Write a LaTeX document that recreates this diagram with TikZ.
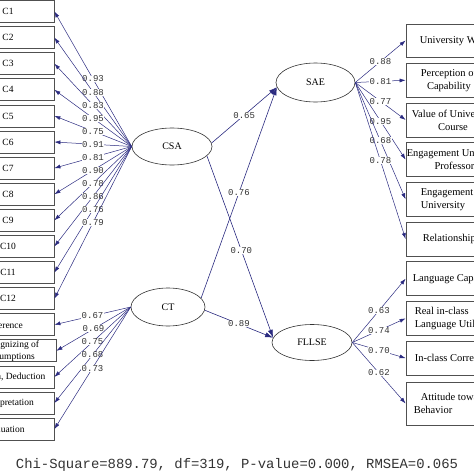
\documentclass[tikz,border=0pt]{standalone}
\usepackage{fontspec}
\setmainfont{Liberation Serif}
\setmonofont{Liberation Mono}
\usepackage{xcolor}
\usepackage{tikz}
\usetikzlibrary{arrows.meta,positioning,shapes.geometric}
\definecolor{SemNavy}{HTML}{2B2B80}
\definecolor{SemGray}{HTML}{505050}
\definecolor{SemText}{HTML}{333333}

\begin{document}
\begin{tikzpicture}[
  x=1pt,y=-1pt,
  latent/.style={ellipse,draw=black!80,line width=0.6pt,minimum width=80pt,minimum height=37pt,
    inner sep=0pt,font=\fontsize{10}{12}\selectfont},
  lbox/.style={rectangle,draw=SemGray,line width=0.8pt,minimum width=92pt,minimum height=22pt,
    inner sep=0pt,align=center,font=\fontsize{9.5}{12}\selectfont},
  rbox/.style={rectangle,draw=SemGray,line width=0.8pt,minimum width=90pt,minimum height=34pt,inner sep=0pt},
  rtext/.style={anchor=west,inner sep=0pt,font=\fontsize{10.5}{13}\selectfont},
  coef/.style={font=\ttfamily\fontsize{9}{9}\selectfont,text=SemText,fill=white,inner sep=0.4pt},
  arrow/.style={-{Latex[length=6pt,width=4pt]},line width=0.5pt,color=SemNavy},
  effect/.style={-{Latex[length=8pt,width=5pt]},line width=0.6pt,color=SemNavy}
]
  \useasboundingbox (0,0) rectangle (474,474);
  \clip (0,0) rectangle (474,474);

  % latent variables
  \node[latent] (csa) at (172,146.5) {CSA};
  \node[latent,minimum width=74pt,minimum height=38pt] (ct) at (168,307) {CT};
  \node[latent,minimum width=79pt,minimum height=39pt] (sae) at (315.5,82.5) {SAE};
  \node[latent,minimum height=36pt] (fllse) at (312,342.5) {FLLSE};

  % indicators of CSA and CT
  \node[lbox] (c1) at (8,11.5) {C1};
  \node[lbox] (c2) at (8,37.6) {C2};
  \node[lbox] (c3) at (8,63.7) {C3};
  \node[lbox] (c4) at (8,89.8) {C4};
  \node[lbox] (c5) at (8,115.9) {C5};
  \node[lbox] (c6) at (8,142.0) {C6};
  \node[lbox] (c7) at (8,168.1) {C7};
  \node[lbox] (c8) at (8,194.2) {C8};
  \node[lbox] (c9) at (8,220.3) {C9};
  \node[lbox] (c10) at (8,246.4) {C10};
  \node[lbox] (c11) at (8,272.5) {C11};
  \node[lbox] (c12) at (8,298.6) {C12};
  \node[lbox,minimum width=98pt] (infer) at (5,324.7) {Inference};
  \node[lbox] (assum) at (10,350.8) {Recognizing of\\Assumptions};
  \node[lbox,minimum width=98pt] (deduc) at (5,376.9) {Induction, Deduction};
  \node[lbox] (inter) at (8,403.0) {Interpretation};
  \node[lbox,minimum width=100pt] (evalu) at (4,429.1) {Evaluation};

  % indicators of SAE and FLLSE
  \node[rbox,minimum height=33pt] (b1) at (451,40.5) {};
  \node[rbox] (b2) at (451,80.2) {};
  \node[rbox] (b3) at (451,119.9) {};
  \node[rbox] (b4) at (451,159.6) {};
  \node[rbox] (b5) at (451,199.3) {};
  \node[rbox] (b6) at (451,239.0) {};
  \node[rbox] (b7) at (451,278.7) {};
  \node[rbox] (b8) at (451,318.4) {};
  \node[rbox] (b9) at (451,358.1) {};
  \node[rbox,minimum height=43pt] (b10) at (451,403.5) {};

  \node[rtext] (t1) at ([xshift=14pt]b1.west) {University Worth};
  \node[rtext,align=center] (t2) at ([xshift=15pt]b2.west) {Perception of\\Capability};
  \node[rtext,align=center] (t3) at ([xshift=6pt]b3.west) {Value of University\\Course};
  \node[rtext,align=center] (t4) at ([xshift=1pt]b4.west) {Engagement University\\Professors};
  \node[rtext,align=left] (t5) at ([xshift=15pt]b5.west) {Engagement\\University};
  \node[rtext] (t6) at ([xshift=17pt]b6.west) {Relationship};
  \node[rtext] (t7) at ([xshift=7pt]b7.west) {Language Capability};
  \node[rtext,align=left] (t8) at ([xshift=9pt]b8.west) {Real in-class\\Language Utilization};
  \node[rtext] (t9) at ([xshift=9pt]b9.west) {In-class Correction};
  \node[rtext,align=left] (t10) at ([xshift=8pt]b10.west) {\hspace*{7pt}Attitude toward\\Behavior};

  % loadings
  \draw[arrow] (csa.west) -- node[coef]{0.93} (c1.east);
  \draw[arrow] (csa.west) -- node[coef]{0.88} (c2.east);
  \draw[arrow] (csa.west) -- node[coef]{0.83} (c3.east);
  \draw[arrow] (csa.west) -- node[coef]{0.95} (c4.east);
  \draw[arrow] (csa.west) -- node[coef]{0.75} (c5.east);
  \draw[arrow] (csa.west) -- node[coef]{0.91} (c6.east);
  \draw[arrow] (csa.west) -- node[coef]{0.81} (c7.east);
  \draw[arrow] (csa.west) -- node[coef]{0.90} (c8.east);
  \draw[arrow] (csa.west) -- node[coef]{0.78} (c9.east);
  \draw[arrow] (csa.west) -- node[coef]{0.86} (c10.east);
  \draw[arrow] (csa.west) -- node[coef]{0.76} (c11.east);
  \draw[arrow] (csa.west) -- node[coef]{0.79} (c12.east);
  \draw[arrow] (ct.west) -- node[coef]{0.67} (infer.east);
  \draw[arrow] (ct.west) -- node[coef]{0.69} (assum.east);
  \draw[arrow] (ct.west) -- node[coef]{0.75} (deduc.east);
  \draw[arrow] (ct.west) -- node[coef]{0.68} (inter.east);
  \draw[arrow] (ct.west) -- node[coef]{0.73} (evalu.east);

  \draw[arrow] (sae.east) -- node[coef]{0.88} (b1.west);
  \draw[arrow] (sae.east) -- node[coef]{0.81} (b2.west);
  \draw[arrow] (sae.east) -- node[coef]{0.77} (b3.west);
  \draw[arrow] (sae.east) -- node[coef]{0.95} (b4.west);
  \draw[arrow] (sae.east) -- node[coef]{0.68} (b5.west);
  \draw[arrow] (sae.east) -- node[coef]{0.78} (b6.west);
  \draw[arrow] (fllse.east) -- node[coef]{0.63} (b7.west);
  \draw[arrow] (fllse.east) -- node[coef]{0.74} (b8.west);
  \draw[arrow] (fllse.east) -- node[coef]{0.70} (b9.west);
  \draw[arrow] (fllse.east) -- node[coef]{0.62} (b10.west);

  % structural paths
  \draw[effect] (csa.5) -- node[coef]{0.65} (sae.187);
  \draw[effect] (ct.15) -- node[coef]{0.76} (sae.187);
  \draw[effect] (csa.-15) -- node[coef,pos=0.52]{0.70} (fllse.173);
  \draw[effect] (ct.-5) -- node[coef]{0.89} (fllse.173);

  \node[font=\ttfamily\fontsize{13.9}{14}\selectfont,text=SemText] (fitstat) at (237,465)
    {Chi-Square=889.79, df=319, P-value=0.000, RMSEA=0.065};
\end{tikzpicture}
\end{document}
